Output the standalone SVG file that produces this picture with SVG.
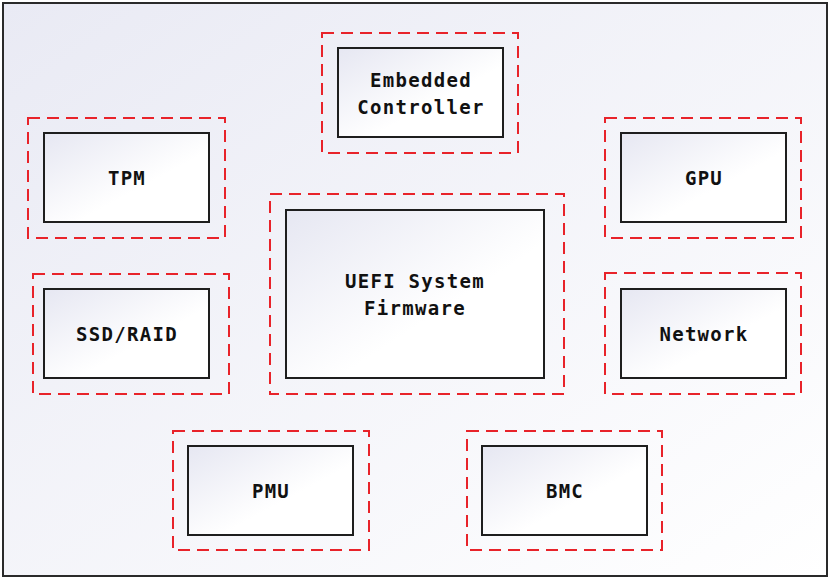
<svg xmlns="http://www.w3.org/2000/svg" width="830" height="579" viewBox="0 0 830 579">
<defs>
<linearGradient id="bg" x1="0" y1="0" x2="1" y2="1">
<stop offset="0" stop-color="#e9eaf4"/>
<stop offset="1" stop-color="#ffffff"/>
</linearGradient>
<linearGradient id="nodeFill" x1="0" y1="0" x2="1" y2="1">
<stop offset="0" stop-color="#e6e7f2"/>
<stop offset="0.6" stop-color="#ffffff"/>
<stop offset="1" stop-color="#ffffff"/>
</linearGradient>
<style>
.frame{fill:url(#bg);stroke:#2a2a2a;stroke-width:2}
.zone{fill:none;stroke:#e8232a;stroke-width:2;stroke-dasharray:12 7}
.box{fill:url(#nodeFill);stroke:#1e1e1e;stroke-width:2}
.lbl{font-family:"DejaVu Sans Mono","Liberation Mono",monospace;font-weight:bold;font-size:19px;letter-spacing:1.3px;fill:#111;text-anchor:middle}
</style>
</defs>
<rect class="frame" x="3" y="3" width="824" height="573"/>
<g id="connectors"></g>
<g id="ec">
<rect class="zone" x="322" y="33" width="196" height="120"/>
<rect class="box" x="338" y="48" width="165" height="89"/>
<text class="lbl" x="421" y="87">Embedded</text>
<text class="lbl" x="421" y="114">Controller</text>
</g>
<g id="tpm">
<rect class="zone" x="28" y="118" width="197" height="120"/>
<rect class="box" x="44" y="133" width="165" height="89"/>
<text class="lbl" x="127" y="185">TPM</text>
</g>
<g id="gpu">
<rect class="zone" x="605" y="118" width="196" height="120"/>
<rect class="box" x="621" y="133" width="165" height="89"/>
<text class="lbl" x="704" y="185">GPU</text>
</g>
<g id="uefi">
<rect class="zone" x="270" y="194" width="294" height="200"/>
<rect class="box" x="286" y="210" width="258" height="168"/>
<text class="lbl" x="415" y="288">UEFI System</text>
<text class="lbl" x="415" y="315">Firmware</text>
</g>
<g id="ssd">
<rect class="zone" x="33" y="274" width="196" height="120"/>
<rect class="box" x="44" y="289" width="165" height="89"/>
<text class="lbl" x="127" y="341">SSD/RAID</text>
</g>
<g id="network">
<rect class="zone" x="605" y="273" width="196" height="121"/>
<rect class="box" x="621" y="289" width="165" height="89"/>
<text class="lbl" x="704" y="341">Network</text>
</g>
<g id="pmu">
<rect class="zone" x="173" y="431" width="196" height="119"/>
<rect class="box" x="188" y="446" width="165" height="89"/>
<text class="lbl" x="271" y="498">PMU</text>
</g>
<g id="bmc">
<rect class="zone" x="467" y="431" width="195" height="119"/>
<rect class="box" x="482" y="446" width="165" height="89"/>
<text class="lbl" x="565" y="498">BMC</text>
</g>
</svg>
